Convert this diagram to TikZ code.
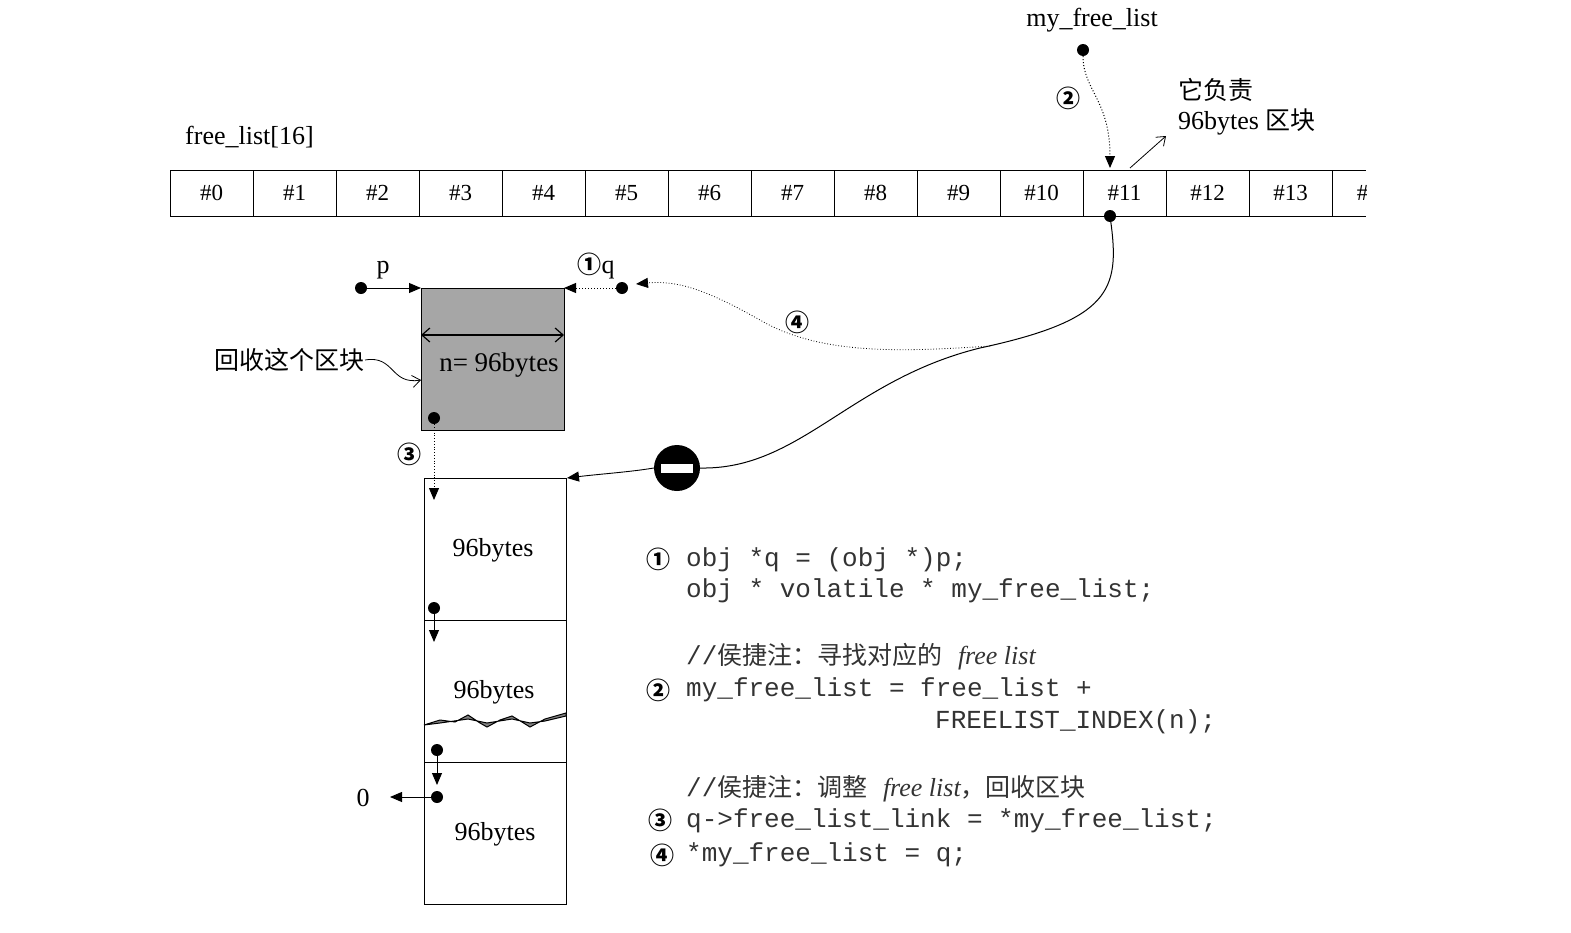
\documentclass[tikz,border=0pt]{standalone}
\usepackage{fontspec}
\setmainfont{Liberation Serif}
\setmonofont{Liberation Mono}
\newfontfamily\cjk{Noto Sans CJK SC}
\usetikzlibrary{arrows.meta,decorations.pathmorphing}
\begin{document}
\begin{tikzpicture}[x=1pt,y=-1pt,
  cell/.style={font=\fontsize{23}{25}\selectfont},
  dot/.style={circle,fill=black,inner sep=0pt,minimum size=12pt},
  arr/.style={-{Triangle[length=12pt,width=10pt]},line width=0.9pt},
  darr/.style={-{Triangle[length=12pt,width=10pt]},dotted,line width=1pt},
  lab/.style={font=\fontsize{26}{28}\selectfont,inner sep=0pt},
  cn/.style={font=\cjk\fontsize{25}{27}\selectfont,inner sep=0pt},
  cnum/.style={font=\cjk\bfseries\fontsize{24}{26}\selectfont,inner sep=0pt},
  code/.style={font=\ttfamily\fontsize{26}{28}\selectfont,anchor=west,inner sep=0pt,text=black!80},
  blk/.style={draw,line width=0.8pt}]
\useasboundingbox (0,0) rectangle (1571,932);
% array
\draw[line width=0.8pt] (170,170) -- (1366,170) (170,216) -- (1366,216) (170,170) -- (170,216);
\foreach \i in {0,...,13}{
  \draw[line width=0.8pt] ({253+83*\i},170) -- ({253+83*\i},216);
  \node[cell] (c\i) at ({211.5+83*\i},193) {\#\i};
}
\begin{scope}
\clip (1331,165) rectangle (1366,220);
\node[cell] (c14) at (1374,193) {\#14};
\end{scope}
\node[lab,anchor=west] (fl) at (185,137) {free\_list[16]};
\node[lab] (mfl) at (1092,20) {my\_free\_list};
\node[dot] (mfd) at (1083,50) {};
\coordinate (a11) at (1110,168);
\draw[darr] (mfd) .. controls (1083,90) and (1110,100) .. (a11);
\node[cnum] (n2) at (1068,98) {②};
\node[cn,anchor=west] (resp1) at (1178,90) {它负责};
\node[anchor=west,inner sep=0pt] (resp2) at (1178,122) {\fontsize{26}{28}\selectfont 96bytes \cjk\fontsize{25}{27}\selectfont 区块};
\draw[-{Straight Barb[length=8pt,width=12pt]},line width=0.8pt] (1130,168) -- (1166,136);
% gray block
\node[blk,fill=gray!70,minimum width=143pt,minimum height=142pt,inner sep=0pt] (g) at (492.5,359) {};
\draw[{Straight Barb[length=8pt,width=14pt]}-{Straight Barb[length=8pt,width=14pt]},line width=1.2pt] (421,335) -- (564,335);
\node[lab,font=\fontsize{27}{29}\selectfont] (n96) at (499,365) {n= 96bytes};
\node[dot] (pd) at (361,288) {};
\node[lab] (pl) at (383,270) {p};
\draw[arr] (pd) -- (421,288);
\node[dot] (qd) at (622,288) {};
\node[inner sep=0pt] (ql) at (596,266) {{\cjk\bfseries\fontsize{24}{26}\selectfont ①}\fontsize{26}{28}\selectfont q};
\draw[darr] (qd) -- (564,288);
\node[cn,anchor=east] (rc) at (365,360) {回收这个区块};
\draw[-{Straight Barb[length=8pt,width=12pt]},line width=0.8pt] (rc.east) .. controls (395,355) and (390,385) .. (421,380);
% lower blocks
\node[blk,minimum width=142pt,minimum height=142pt,inner sep=0pt] (b1) at (495,549) {};
\node[blk,minimum width=142pt,minimum height=142pt,inner sep=0pt] (b2) at (495,691) {};
\node[blk,minimum width=142pt,minimum height=142pt,inner sep=0pt] (b3) at (495,833) {};
\node[lab] (t1) at (493,550) {96bytes};
\node[lab] (t2) at (494,692) {96bytes};
\node[lab] (t3) at (495,834) {96bytes};
\draw[line width=1pt,fill=gray] (424,725) -- (440,720) -- (455,722) -- (468,715) -- (480,723) -- (487,727) -- (500,720) -- (512,716) -- (522,722) -- (530,727) -- (545,719) -- (566,713) -- (566,716) -- (545,721) -- (530,723) -- (512,719)-- (487,723)-- (468,719) -- (440,723) -- cycle;
\node[dot] (gd) at (434,418) {};
\draw[darr,line width=0.8pt] (gd) -- (434,500);
\node[cnum] (n3) at (409,454) {③};
\node[dot] (d1) at (434,608) {};
\draw[arr] (d1) -- (434,642);
\node[dot] (d2) at (437,750) {};
\draw[arr] (d2) -- (437,785);
\node[dot] (d3) at (437,797) {};
\node[lab] (zero) at (363,798) {0};
\draw[arr] (d3) -- (390,797);
% curves
\node[dot] (d11) at (1110,216) {};
\node[circle,fill=black,minimum size=46pt,inner sep=0pt] (minus) at (677,468) {};
\fill[white] (661,464) rectangle (693,473);
\draw[line width=1pt] (d11) .. controls (1120,290) and (1110,320) .. (980,348) .. controls (850,380) and (800,470) .. (minus.east);
\draw[arr] (minus.west) .. controls (630,472) and (600,474) .. (567,478);
\draw[darr,line width=0.8pt] (990,346) .. controls (900,352) and (820,355) .. (760,320) .. controls (710,292) and (680,280) .. (636,284);
\node[cnum] (n4) at (797,322) {④};
% code
\node[cnum] (k1) at (658,559) {①};
\node[code] (l1) at (686,560) {obj *q = (obj *)p;};
\node[code] (l2) at (686,591) {obj * volatile * my\_free\_list;};
\node[anchor=west,inner sep=0pt,text=black!80] (l3) at (686,657) {\ttfamily\fontsize{26}{28}\selectfont//{\cjk\fontsize{25}{27}\selectfont 侯捷注：寻找对应的} \rmfamily\itshape\fontsize{26}{28}\selectfont free list};
\node[cnum] (k2) at (658,690) {②};
\node[code] (l4) at (686,690) {my\_free\_list = free\_list +};
\node[code] (l5) at (935,722) {FREELIST\_INDEX(n);};
\node[anchor=west,inner sep=0pt,text=black!80] (l6) at (686,789) {\ttfamily\fontsize{26}{28}\selectfont//{\cjk\fontsize{25}{27}\selectfont 侯捷注：调整} \rmfamily\itshape\fontsize{26}{28}\selectfont free list{\cjk\upshape\fontsize{25}{27}\selectfont ，回收区块}};
\node[cnum] (k3) at (660,820) {③};
\node[code] (l7) at (686,821) {q->free\_list\_link = *my\_free\_list;};
\node[cnum] (k4) at (662,855) {④};
\node[code] (l8) at (686,855) {*my\_free\_list = q;};
\end{tikzpicture}
\end{document}
